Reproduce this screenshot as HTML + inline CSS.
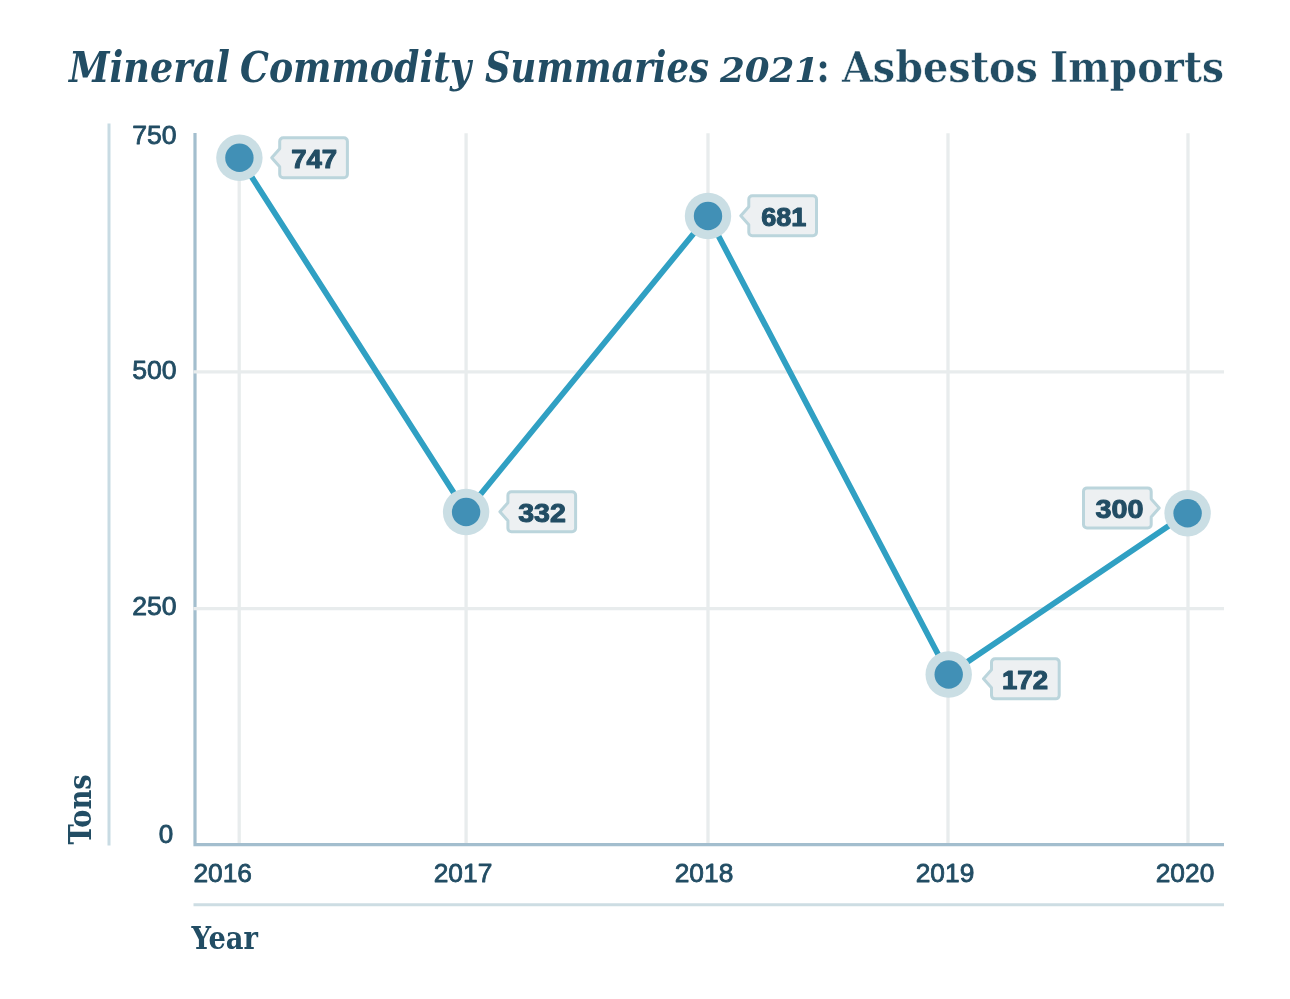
<!DOCTYPE html>
<html lang="en">
<head>
<meta charset="utf-8">
<title>Mineral Commodity Summaries 2021: Asbestos Imports</title>
<style>
  html,body{margin:0;padding:0;background:#fff;}
  body{width:1290px;height:999px;overflow:hidden;position:relative;}
  svg{position:absolute;left:0;top:0;display:block;}
  .serif{font-family:"DejaVu Serif Condensed","DejaVu Serif","Liberation Serif",serif;font-weight:bold;fill:#224d64;stroke:#ffffff;stroke-width:0.4px;}
  .sans{font-family:"Liberation Sans",Arial,Helvetica,sans-serif;fill:#224d64;}
  .tick{font-size:26px;stroke:#224d64;stroke-width:0.8px;stroke-linejoin:round;}
  .lbl{font-size:25.2px;font-weight:bold;stroke:#224d64;stroke-width:1px;stroke-linejoin:round;}
</style>
</head>
<body>
<svg width="1290" height="999" viewBox="0 0 1290 999">
  <rect width="1290" height="999" fill="#ffffff"/>

  <!-- title -->
  <text class="serif" y="81.6" font-size="42.5"><tspan font-style="italic" style="stroke:none"><tspan x="69" textLength="161" lengthAdjust="spacingAndGlyphs">Mineral</tspan> <tspan x="240" textLength="231" lengthAdjust="spacingAndGlyphs">Commodity</tspan> <tspan x="485" textLength="224" lengthAdjust="spacingAndGlyphs">Summaries</tspan> <tspan x="720" font-size="33" textLength="99" lengthAdjust="spacingAndGlyphs">2021</tspan></tspan><tspan x="816">:</tspan> <tspan x="842" textLength="196" lengthAdjust="spacingAndGlyphs">Asbestos</tspan> <tspan x="1050" textLength="174" lengthAdjust="spacingAndGlyphs">Imports</tspan></text>

  <!-- grid -->
  <g stroke="#e8eced" stroke-width="3.3" fill="none">
    <line x1="239.2" y1="136" x2="239.2" y2="845"/>
    <line x1="466.1" y1="133.3" x2="466.1" y2="845"/>
    <line x1="708" y1="133.3" x2="708" y2="845"/>
    <line x1="948" y1="133.3" x2="948" y2="845"/>
    <line x1="1188" y1="133.3" x2="1188" y2="845"/>
  </g>

  <!-- thin frame lines -->
  <line x1="109" y1="123.5" x2="109" y2="845.5" stroke="#c8dbe3" stroke-width="3"/>
  <line x1="193.5" y1="904.8" x2="1224" y2="904.8" stroke="#cddde3" stroke-width="3"/>

  <!-- axes -->
  <path d="M195 133 V844.7 H1224" fill="none" stroke="#a3bece" stroke-width="3.2"/>
  <g stroke="#e8eced" stroke-width="3.3" fill="none">
    <line x1="193.4" y1="371.8" x2="1224" y2="371.8"/>
    <line x1="193.4" y1="608.6" x2="1224" y2="608.6"/>
  </g>

  <!-- series line -->
  <polyline points="239.4,157.8 466.1,512 708,216 948.7,674.5 1187.6,513.2" fill="none" stroke="#30a0c3" stroke-width="5.8" stroke-linejoin="round"/>

  <!-- points -->
  <g>
    <circle cx="239.4" cy="157.8" r="23.2" fill="#cadee4"/><circle cx="239.4" cy="157.8" r="14.2" fill="#4190b6"/>
    <circle cx="466.1" cy="512" r="23.2" fill="#cadee4"/><circle cx="466.1" cy="512" r="14.2" fill="#4190b6"/>
    <circle cx="708" cy="216" r="23.2" fill="#cadee4"/><circle cx="708" cy="216" r="14.2" fill="#4190b6"/>
    <circle cx="948.7" cy="674.5" r="23.2" fill="#cadee4"/><circle cx="948.7" cy="674.5" r="14.2" fill="#4190b6"/>
    <circle cx="1187.6" cy="513.2" r="23.2" fill="#cadee4"/><circle cx="1187.6" cy="513.2" r="14.2" fill="#4190b6"/>
  </g>

  <!-- labels -->
  <g fill="#edf0f2" stroke="#bbd5dc" stroke-width="3" stroke-linejoin="round">
    <path d="M1.5 -16.5 a3.5 3.5 0 0 1 3.5 -3.5 h60.7 a3.5 3.5 0 0 1 3.5 3.5 v33 a3.5 3.5 0 0 1 -3.5 3.5 h-60.7 a3.5 3.5 0 0 1 -3.5 -3.5 v-7.5 l-8 -9 l8 -9 z" transform="translate(278.2,157.8)"/>
    <path d="M1.5 -16.5 a3.5 3.5 0 0 1 3.5 -3.5 h60.7 a3.5 3.5 0 0 1 3.5 3.5 v33 a3.5 3.5 0 0 1 -3.5 3.5 h-60.7 a3.5 3.5 0 0 1 -3.5 -3.5 v-7.5 l-8 -9 l8 -9 z" transform="translate(506.4,511.7)"/>
    <path d="M1.5 -16.5 a3.5 3.5 0 0 1 3.5 -3.5 h60.7 a3.5 3.5 0 0 1 3.5 3.5 v33 a3.5 3.5 0 0 1 -3.5 3.5 h-60.7 a3.5 3.5 0 0 1 -3.5 -3.5 v-7.5 l-8 -9 l8 -9 z" transform="translate(747.3,215.7)"/>
    <path d="M1.5 -16.5 a3.5 3.5 0 0 1 3.5 -3.5 h60.7 a3.5 3.5 0 0 1 3.5 3.5 v33 a3.5 3.5 0 0 1 -3.5 3.5 h-60.7 a3.5 3.5 0 0 1 -3.5 -3.5 v-7.5 l-8 -9 l8 -9 z" transform="translate(990,678.85)"/>
    <path d="M-1.5 -16.5 a3.5 3.5 0 0 0 -3.5 -3.5 h-60.7 a3.5 3.5 0 0 0 -3.5 3.5 v33 a3.5 3.5 0 0 0 3.5 3.5 h60.7 a3.5 3.5 0 0 0 3.5 -3.5 v-7.5 l8 -9 l-8 -9 z" transform="translate(1152.7,507.9)"/>
  </g>
  <g class="sans lbl" text-anchor="middle" lengthAdjust="spacingAndGlyphs">
    <text x="314.2" y="167.9" textLength="46" lengthAdjust="spacingAndGlyphs">747</text>
    <text x="542" y="522" textLength="47.7" lengthAdjust="spacingAndGlyphs">332</text>
    <text x="783.8" y="226" textLength="45.2" lengthAdjust="spacingAndGlyphs">681</text>
    <text x="1025" y="688.8" textLength="46" lengthAdjust="spacingAndGlyphs">172</text>
    <text x="1119.5" y="518.2" textLength="48" lengthAdjust="spacingAndGlyphs">300</text>
  </g>

  <!-- y ticks -->
  <g class="sans tick" text-anchor="end">
    <text x="176.6" y="143.8" textLength="44.4" lengthAdjust="spacingAndGlyphs">750</text>
    <text x="176.6" y="379.4" textLength="44.4" lengthAdjust="spacingAndGlyphs">500</text>
    <text x="176.6" y="615.4" textLength="44.4" lengthAdjust="spacingAndGlyphs">250</text>
    <text x="173.3" y="843">0</text>
  </g>
  <!-- x ticks -->
  <g class="sans tick">
    <text x="193.4" y="882.2" textLength="58.6" lengthAdjust="spacingAndGlyphs">2016</text>
    <text x="433.7" y="882.2" textLength="58.6" lengthAdjust="spacingAndGlyphs">2017</text>
    <text x="674.7" y="882.2" textLength="58.6" lengthAdjust="spacingAndGlyphs">2018</text>
    <text x="915.7" y="882.2" textLength="58.6" lengthAdjust="spacingAndGlyphs">2019</text>
    <text x="1155.7" y="882.2" textLength="58.6" lengthAdjust="spacingAndGlyphs">2020</text>
  </g>

  <!-- axis titles -->
  <text class="serif" style="stroke:none" x="191.5" y="948.5" font-size="31.5" textLength="66.5" lengthAdjust="spacingAndGlyphs">Year</text>
  <text class="serif" style="stroke:none" font-size="31.5" textLength="70" lengthAdjust="spacingAndGlyphs" transform="translate(90.5,844.5) rotate(-90)">Tons</text>
</svg>
</body>
</html>
